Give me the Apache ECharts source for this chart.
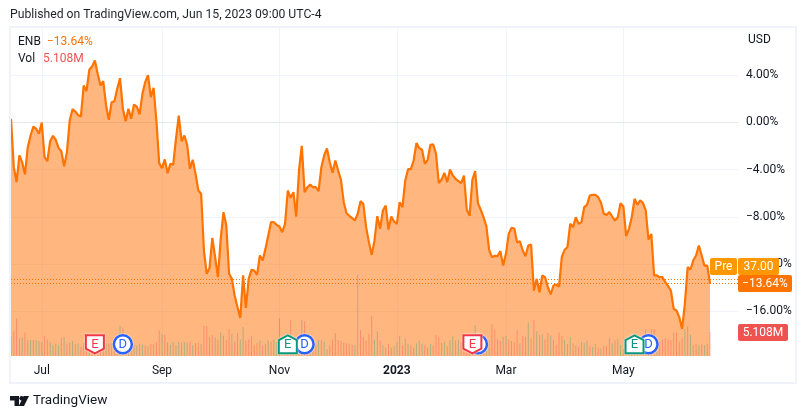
<!DOCTYPE html>
<html>
<head>
<meta charset="utf-8">
<style>
  html, body { margin: 0; padding: 0; background: #fff; }
  #main { width: 806px; height: 419px; }
</style>
<script src="https://cdn.jsdelivr.net/npm/echarts@6/dist/echarts.min.js"></script>
</head>
<body>
<div id="main"></div>
<script>
// percent change per trading day
const changePct = [
  0.31,-3.78,-5.05,-2.79,-3.36,-4.40,-2.09,-1.10,-0.34,-0.54,
  -0.96,0.00,-2.94,-3.27,-1.58,-1.13,-1.47,-2.15,-2.43,-3.70,
  -2.51,0.17,1.13,0.93,0.62,0.51,3.13,2.65,4.46,4.74,
  5.25,4.12,3.13,3.50,1.44,0.23,1.72,1.81,2.85,3.75,
  1.16,0.11,1.16,0.31,1.52,1.35,0.68,2.43,3.42,4.01,
  2.15,2.94,0.17,-3.44,-3.87,-3.13,-4.29,-3.50,-3.58,-1.38,
  0.59,-1.58,-1.10,-1.89,-3.92,-3.16,-4.35,-5.76,-6.04,-10.84,
  -12.81,-12.31,-9.77,-11.40,-13.10,-9.85,-7.59,-8.72,-12.81,-13.24,
  -14.65,-15.64,-16.54,-12.95,-15.69,-13.24,-12.48,-12.53,-12.90,-11.26,
  -11.68,-10.70,-9.57,-8.44,-8.44,-8.67,-8.81,-9.29,-8.58,-5.76,
  -6.38,-5.90,-7.96,-4.06,-1.98,-5.90,-5.48,-5.25,-5.48,-5.48,
  -5.81,-3.78,-2.79,-2.20,-3.36,-4.26,-3.22,-4.06,-4.85,-6.75,
  -7.68,-7.90,-8.10,-8.30,-7.73,-6.66,-6.89,-8.86,-10.13,-11.21,
  -9.99,-7.93,-9.00,-7.45,-7.03,-9.06,-7.96,-8.38,-8.58,-6.75,
  -7.17,-4.91,-3.95,-3.95,-3.22,-1.75,-2.17,-2.31,-3.50,-3.16,
  -1.89,-1.86,-2.65,-5.14,-4.83,-4.26,-5.05,-3.98,-4.49,-4.77,
  -4.97,-5.14,-4.49,-7.39,-7.90,-4.85,-4.12,-6.83,-7.39,-8.02,
  -8.78,-10.78,-11.40,-11.29,-11.32,-10.89,-12.11,-11.12,-9.43,-8.92,
  -8.98,-10.16,-10.05,-10.84,-11.32,-10.41,-10.33,-14.23,-13.24,-14.37,
  -12.95,-13.10,-13.94,-14.56,-13.80,-13.72,-13.89,-11.35,-10.78,-10.56,
  -8.58,-8.86,-8.02,-8.58,-8.44,-7.17,-6.97,-6.18,-6.12,-6.12,
  -6.32,-6.80,-7.73,-7.82,-7.59,-7.96,-8.30,-8.02,-6.83,-7.11,
  -9.62,-9.00,-8.02,-6.46,-6.97,-6.60,-6.80,-7.45,-9.91,-9.43,
  -12.95,-12.95,-13.10,-13.10,-13.52,-13.86,-14.23,-15.78,-15.92,-16.48,
  -17.47,-15.35,-12.25,-12.45,-11.69,-11.26,-10.41,-11.26,-12.11,-12.11,
  -13.64
];

// volume in millions
const volumes = [
  4.1,5.3,8.0,3.8,4.0,5.0,3.4,3.4,3.4,3.4,
  3.2,3.0,4.3,3.5,3.0,2.3,2.6,2.3,3.8,4.0,
  2.6,2.9,3.2,2.5,2.6,2.0,2.8,3.0,2.6,3.2,
  2.8,2.4,3.0,2.5,2.7,2.7,2.8,3.0,2.9,6.4,
  6.1,3.0,2.8,2.6,2.3,2.2,2.5,2.4,2.3,2.1,
  2.6,2.4,3.0,5.5,4.7,4.5,3.0,2.4,3.0,2.3,
  3.0,2.9,3.0,2.9,3.1,2.3,2.8,2.7,2.6,6.4,
  6.4,4.0,4.5,4.0,3.5,5.0,4.3,3.4,5.7,4.8,
  3.1,4.9,3.5,6.2,3.3,3.5,4.3,2.3,2.8,3.3,
  2.3,2.6,3.3,3.0,3.5,3.0,8.0,3.0,3.0,3.3,
  7.7,3.0,3.0,2.9,7.7,7.4,3.2,3.0,3.0,2.4,
  3.3,3.4,3.0,1.5,2.3,3.6,4.9,3.4,3.2,2.8,
  2.7,2.6,2.4,2.3,17.4,5.5,4.1,3.3,4.7,8.5,
  3.6,5.3,3.3,2.3,1.8,2.6,1.8,2.1,3.0,4.3,
  2.3,3.7,2.6,2.3,1.8,2.7,3.3,2.6,2.3,1.8,
  2.6,2.3,4.5,4.1,2.8,3.0,2.1,3.4,4.3,3.3,
  3.5,3.0,2.6,3.0,3.2,3.0,6.6,3.2,3.0,3.0,
  3.0,3.3,6.8,5.7,3.5,3.2,4.1,4.3,3.5,3.2,
  3.0,5.5,2.7,4.3,4.1,7.2,3.7,7.7,5.3,4.5,
  4.7,3.5,4.9,4.4,3.4,2.3,5.0,4.3,3.4,2.5,
  4.0,2.7,2.3,2.0,3.0,2.8,3.3,2.1,1.9,2.6,
  1.7,1.6,2.1,2.2,3.8,2.8,3.3,3.7,2.3,1.5,
  2.0,2.0,2.0,2.0,2.5,2.5,3.5,5.7,3.5,5.7,
  5.7,3.0,3.0,3.5,3.8,3.5,3.4,5.0,5.0,3.1,
  3.8,5.7,6.4,4.6,2.3,2.6,2.3,2.5,2.3,2.6,
  5.108
];

// 1 = up day (green bar), 0 = down day (red bar)
const volumeUp = [
  0,0,0,1,1,0,1,1,1,1,
  1,1,0,0,1,1,1,1,1,1,
  0,1,1,0,1,0,1,0,1,0,
  1,1,0,1,1,0,1,0,1,1,
  0,0,1,0,1,1,1,1,0,1,
  0,1,0,0,1,0,1,1,1,1,
  1,1,1,1,0,1,1,0,1,0,
  0,1,0,1,0,1,1,0,0,1,
  0,0,1,1,0,0,0,0,0,1,
  0,1,1,0,1,1,0,1,1,0,
  0,1,0,1,1,0,0,1,1,0,
  1,1,1,1,0,0,0,0,0,0,
  0,0,0,1,1,0,0,0,0,0,
  1,1,0,1,1,0,1,1,1,1,
  0,1,1,0,1,1,1,1,0,1,
  1,0,0,0,0,1,0,1,1,0,
  1,0,0,0,1,0,1,0,1,0,
  1,1,0,0,1,0,1,1,0,1,
  0,0,1,0,0,1,0,0,1,0,
  1,0,0,1,0,0,0,0,1,0,
  1,0,1,0,1,1,1,0,1,1,
  0,1,0,0,1,1,0,1,1,0,
  0,1,0,1,1,0,0,1,1,0,
  0,1,0,0,0,0,0,0,0,0,
  0,1,1,1,1,0,1,0,1,0,
  0
];

const dayCount = 261; // trading days across the plot, the last 10 are empty
const monthIndex = [11, 54, 96, 138, 177, 219];
const monthLabels = ['Jul', 'Sep', 'Nov', '2023', 'Mar', 'May'];
const pctTicks = [4, 0, -4, -8, -12, -16];
const lastValue = -13.64;
const preValue = -13.3;

// earnings and dividend flags: day index, kind, letter (the third D sits behind its E)
const eventDays = [40, 30, 105, 99, 167, 165, 228, 223];
const eventKinds = ['D', 'E-', 'D', 'E+', 'D', 'E-', 'D', 'E+'];
const eventLetters = ['D', 'E', 'D', 'E', '', 'E', 'D', 'E'];

const categories = Array.from({ length: dayCount }, (_, i) => {
  const k = monthIndex.indexOf(i);
  return k >= 0 ? monthLabels[k] : '';
});

const ink = '#131722';
const orange = '#ff7300';
const font = 'Roboto, sans-serif';
const red = '#f23645';
const green = '#089981';
const blue = '#2962ff';

const flagShape = {
  'D': { symbol: 'circle', size: 18, color: blue, width: 2.5 },
  'E-': { symbol: 'path://M0 0H18V14L9 19L0 14Z', size: [18, 18], color: red, width: 2 },
  'E+': { symbol: 'path://M0 5L9 0L18 5V19H0Z', size: [18, 18], color: green, width: 2 }
};

const fmtPct = v => (v < 0 ? '\u2212' : '') + Math.abs(v).toFixed(2) + '%';

function tag(x, y, w, h, fill, label, textColor) {
  return {
    type: 'group', z: 100, children: [
      { type: 'rect', x: x, y: y, z: 100, shape: { width: w, height: h, r: 2 }, style: { fill: fill } },
      { type: 'text', x: x + w / 2, y: y + h / 2, z: 101, style: { text: label, fill: textColor || '#fff', font: '12px ' + font, align: 'center', verticalAlign: 'middle' } }
    ]
  };
}

function note(x, y, text, color, size) {
  return { type: 'text', x: x, y: y, z: 100, style: { text: text, fill: color || ink, font: (size || 12) + 'px ' + font, verticalAlign: 'middle' } };
}

const chart = echarts.init(document.getElementById('main'), null, { renderer: 'canvas' });

chart.setOption({
  animation: false,
  grid: { left: 11, right: 68, top: 28, bottom: 63 },
  xAxis: {
    type: 'category',
    data: categories,
    boundaryGap: false,
    axisLine: { lineStyle: { color: '#e6e8ef', width: 1 } },
    axisTick: { show: false },
    axisLabel: {
      interval: i => monthIndex.includes(i),
      color: ink,
      fontFamily: font,
      fontSize: 12,
      margin: 9,
      formatter: v => v === '2023' ? '{b|2023}' : v,
      rich: { b: { fontWeight: 'bold', color: ink, fontFamily: font, fontSize: 12 } }
    },
    splitLine: {
      show: true,
      interval: i => monthIndex.includes(i),
      lineStyle: { color: '#f0f3fa', width: 1 }
    }
  },
  yAxis: [
    {
      type: 'value',
      position: 'right',
      min: -19.77,
      max: 8,
      axisLine: { show: false },
      axisTick: { show: false, customValues: pctTicks },
      splitLine: { show: false },
      axisLabel: {
        customValues: pctTicks,
        color: ink,
        fontFamily: font,
        fontSize: 12,
        margin: 8,
        formatter: fmtPct
      }
    },
    { type: 'value', min: 0, max: 70, show: false }
  ],
  series: [
    {
      // price grid sits under the area
      type: 'line',
      data: [],
      z: 0,
      silent: true,
      markLine: {
        z: 0,
        silent: true,
        symbol: 'none',
        label: { show: false },
        animation: false,
        data: pctTicks.map(v => ({
          yAxis: v,
          lineStyle: { color: v === 0 ? '#b2b5be' : '#f0f3fa', width: 1, type: 'solid' }
        }))
      }
    },
    {
      type: 'line',
      data: changePct,
      z: 2,
      symbol: 'none',
      smooth: false,
      lineStyle: { color: orange, width: 2.2 },
      itemStyle: { color: orange },
      areaStyle: { color: 'rgba(255,112,0,0.5)', opacity: 1, origin: 'start' },
      markLine: {
        silent: true,
        symbol: 'none',
        label: { show: false },
        animation: false,
        lineStyle: { color: orange, width: 1, type: [1, 2] },
        data: [{ yAxis: preValue }, { yAxis: lastValue }]
      }
    },
    {
      type: 'bar',
      yAxisIndex: 1,
      z: 3,
      barWidth: 1,
      data: volumes.map((v, i) => ({
        value: v,
        itemStyle: { color: volumeUp[i] ? 'rgba(8,153,129,0.32)' : 'rgba(242,54,69,0.32)' }
      })),
      markPoint: {
        animation: false,
        silent: true,
        data: eventDays.map((d, i) => {
          const s = flagShape[eventKinds[i]];
          return {
            coord: [d, 2.5],
            symbol: s.symbol,
            symbolSize: s.size,
            itemStyle: { color: '#fff', borderColor: s.color, borderWidth: s.width, shadowColor: '#fff', shadowBlur: 2 },
            label: {
              show: true,
              position: 'inside',
              formatter: eventLetters[i],
              color: s.color,
              fontFamily: font,
              fontSize: 13
            }
          };
        })
      }
    }
  ],
  graphic: [
    { type: 'rect', z: 90, x: 10, y: 27, shape: { width: 786, height: 356 }, style: { fill: 'none', stroke: '#f0f3fa', lineWidth: 2 } },
    note(10, 15, 'Published on TradingView.com, Jun 15, 2023 09:00 UTC-4', '#1f2329', 12.2),
    note(18, 42, 'ENB'),
    note(47, 42, '\u221213.64%', orange),
    note(18, 59, 'Vol'),
    note(43, 59, '5.108M', '#ef5350'),
    note(748, 40, 'USD'),
    tag(710, 258, 27, 17, '#ff9800', 'Pre'),
    tag(738, 258, 41, 17, '#ff9800', '37.00'),
    tag(738, 275, 54, 17, orange, '\u221213.64%'),
    tag(738, 324, 50, 17, '#ef5350', '5.108M'),
    // TradingView logo
    {
      type: 'group', x: 10, y: 396, z: 100, children: [
        { type: 'polygon', shape: { points: [[0, 0], [9, 0], [9, 10], [4.5, 10], [4.5, 4.5], [0, 4.5]] }, style: { fill: ink } },
        { type: 'circle', shape: { cx: 11.6, cy: 2.2, r: 2.2 }, style: { fill: ink } },
        { type: 'polygon', shape: { points: [[19, 0], [14, 10], [8.8, 10], [13.6, 0]] }, style: { fill: ink } }
      ]
    },
    note(33, 401, 'TradingView', ink, 13.5)
  ]
});
</script>
</body>
</html>
